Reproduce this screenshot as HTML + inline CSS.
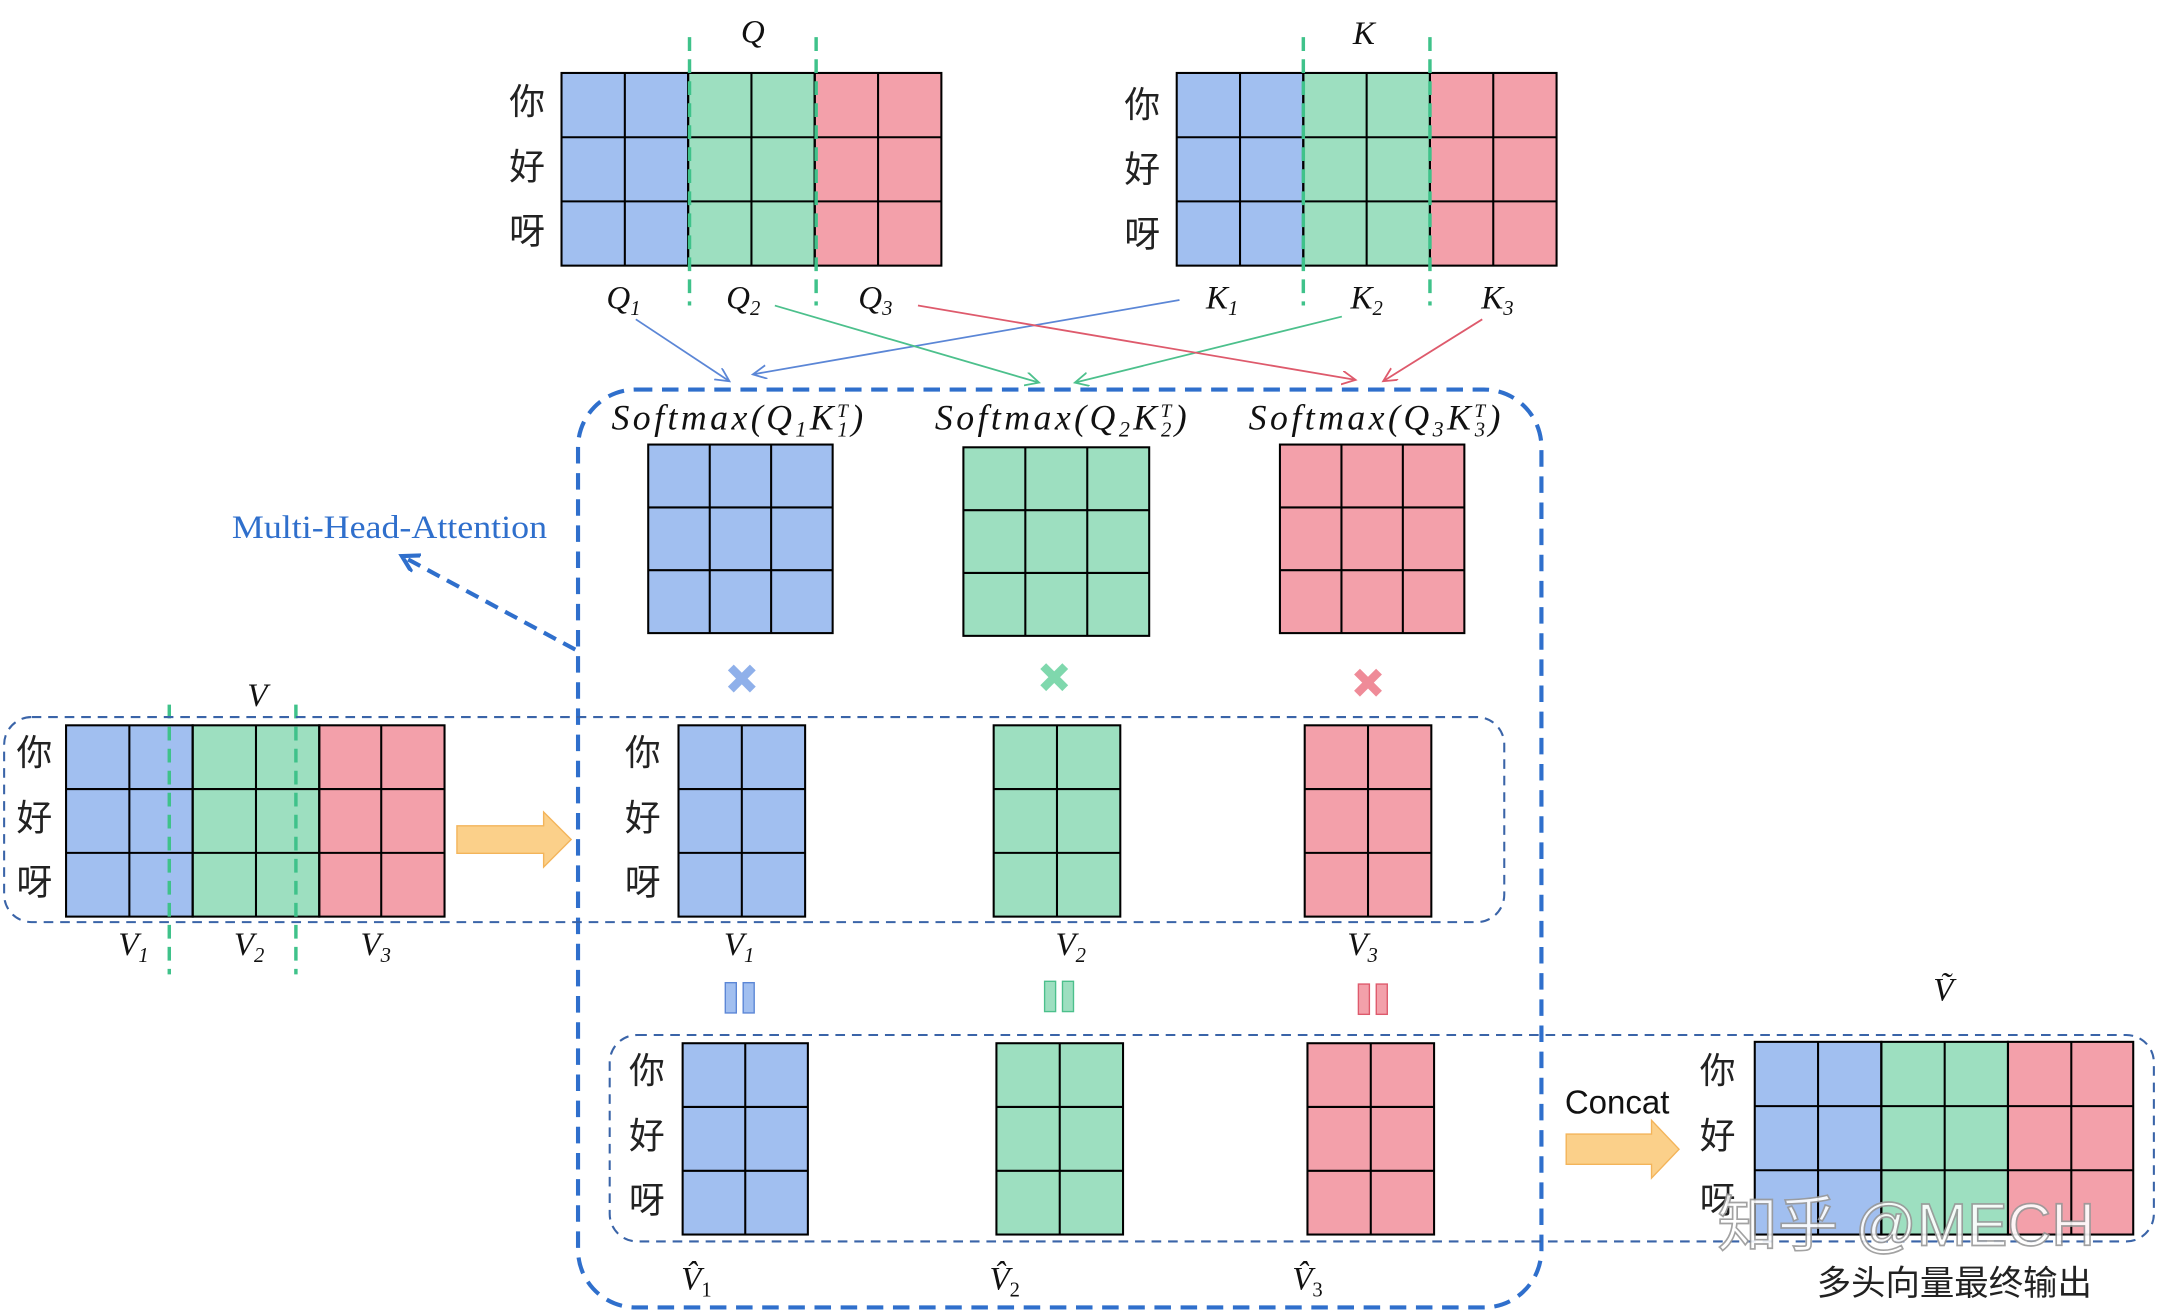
<!DOCTYPE html>
<html><head><meta charset="utf-8"><style>html,body{margin:0;padding:0;background:#fff}svg{display:block}</style></head>
<body>
<svg width="2158" height="1313" viewBox="0 0 1568 954" xmlns="http://www.w3.org/2000/svg" font-family="Liberation Serif, serif">
<defs>
<marker id="ab" markerWidth="12" markerHeight="12" refX="10" refY="5" orient="auto" markerUnits="userSpaceOnUse"><path d="M0,0 L10,5 L0,10" fill="none" stroke="#5b86d6" stroke-width="1.3"/></marker>
<marker id="ag" markerWidth="12" markerHeight="12" refX="10" refY="5" orient="auto" markerUnits="userSpaceOnUse"><path d="M0,0 L10,5 L0,10" fill="none" stroke="#4cc08c" stroke-width="1.3"/></marker>
<marker id="ar" markerWidth="12" markerHeight="12" refX="10" refY="5" orient="auto" markerUnits="userSpaceOnUse"><path d="M0,0 L10,5 L0,10" fill="none" stroke="#de5a6c" stroke-width="1.3"/></marker>
<marker id="abig" markerWidth="16" markerHeight="16" refX="12" refY="7" orient="auto" markerUnits="userSpaceOnUse"><path d="M0,0 L12,7 L0,14" fill="none" stroke="#2f6fcc" stroke-width="3"/></marker>
</defs>
<g stroke="#000" stroke-width="1.5">
<rect x="408" y="53" width="92" height="140" fill="#a1bff0"/><rect x="500" y="53" width="92" height="140" fill="#9ddfc0"/><rect x="592" y="53" width="92" height="140" fill="#f3a0aa"/>
<path d="M454 53V193M500 53V193M546 53V193M592 53V193M638 53V193M408 99.7H684M408 146.3H684" fill="none"/>
<rect x="855" y="53" width="92" height="140" fill="#a1bff0"/><rect x="947" y="53" width="92" height="140" fill="#9ddfc0"/><rect x="1039" y="53" width="92" height="140" fill="#f3a0aa"/>
<path d="M901 53V193M947 53V193M993 53V193M1039 53V193M1085 53V193M855 99.7H1131M855 146.3H1131" fill="none"/>
<rect x="471" y="323" width="134" height="137" fill="#a1bff0"/><path d="M515.7 323V460M560.3 323V460M471 368.7H605M471 414.3H605" fill="none"/>
<rect x="700" y="325" width="135" height="137" fill="#9ddfc0"/><path d="M745 325V462M790 325V462M700 370.7H835M700 416.3H835" fill="none"/>
<rect x="930" y="323" width="134" height="137" fill="#f3a0aa"/><path d="M974.7 323V460M1019.3 323V460M930 368.7H1064M930 414.3H1064" fill="none"/>
<rect x="48" y="527" width="92" height="139" fill="#a1bff0"/><rect x="140" y="527" width="92" height="139" fill="#9ddfc0"/><rect x="232" y="527" width="91" height="139" fill="#f3a0aa"/>
<path d="M94 527V666M140 527V666M186 527V666M232 527V666M277 527V666M48 573.3H323M48 619.7H323" fill="none"/>
<rect x="493" y="527" width="92" height="139" fill="#a1bff0"/><path d="M539 527V666M493 573.3H585M493 619.7H585" fill="none"/>
<rect x="722" y="527" width="92" height="139" fill="#9ddfc0"/><path d="M768 527V666M722 573.3H814M722 619.7H814" fill="none"/>
<rect x="948" y="527" width="92" height="139" fill="#f3a0aa"/><path d="M994 527V666M948 573.3H1040M948 619.7H1040" fill="none"/>
<rect x="496" y="758" width="91" height="139" fill="#a1bff0"/><path d="M541.5 758V897M496 804.3H587M496 850.7H587" fill="none"/>
<rect x="724" y="758" width="92" height="139" fill="#9ddfc0"/><path d="M770 758V897M724 804.3H816M724 850.7H816" fill="none"/>
<rect x="950" y="758" width="92" height="139" fill="#f3a0aa"/><path d="M996 758V897M950 804.3H1042M950 850.7H1042" fill="none"/>
<rect x="1275" y="757" width="92" height="140" fill="#a1bff0"/><rect x="1367" y="757" width="92" height="140" fill="#9ddfc0"/><rect x="1459" y="757" width="91" height="140" fill="#f3a0aa"/>
<path d="M1321 757V897M1367 757V897M1413 757V897M1459 757V897M1505 757V897M1275 803.7H1550M1275 850.3H1550" fill="none"/>
</g>
<g stroke="#3fc28a" stroke-width="2.5" stroke-dasharray="10,6">
<path d="M501 27V222M593 27V222M947 27V222M1039 27V222M123 512V708M215 512V708"/>
</g>
<g stroke-width="1.3" fill="none">
<path d="M462 232L530 277" stroke="#5b86d6" marker-end="url(#ab)"/>
<path d="M857 218L547 272" stroke="#5b86d6" marker-end="url(#ab)"/>
<path d="M563 222L755 278" stroke="#4cc08c" marker-end="url(#ag)"/>
<path d="M975 230L781 278" stroke="#4cc08c" marker-end="url(#ag)"/>
<path d="M667 222L985 276" stroke="#de5a6c" marker-end="url(#ar)"/>
<path d="M1077 232L1005 277" stroke="#de5a6c" marker-end="url(#ar)"/>
</g>
<rect x="420" y="283" width="700" height="667" rx="42" fill="none" stroke="#2f6fcc" stroke-width="3" stroke-dasharray="12,7"/>
<rect x="3" y="521" width="1090" height="149" rx="20" fill="none" stroke="#3a64a8" stroke-width="1.5" stroke-dasharray="7,5"/>
<rect x="443" y="752" width="1122" height="150" rx="20" fill="none" stroke="#3a64a8" stroke-width="1.5" stroke-dasharray="7,5"/>
<path d="M418 472L292 404" stroke="#2f6fcc" stroke-width="3" stroke-dasharray="10,6" fill="none" marker-end="url(#abig)"/>
<text x="283" y="391" font-size="24" fill="#2f6fcc" text-anchor="middle" textLength="229" lengthAdjust="spacingAndGlyphs">Multi-Head-Attention</text>
<path d="M332 600H395V590L415 610L395 630V620H332Z" fill="#fbd08a" stroke="#f3b45a" stroke-width="1"/>
<path d="M1138 824H1200V814L1220 835L1200 856V846H1138Z" fill="#fbd08a" stroke="#f3b45a" stroke-width="1"/>
<g stroke-width="6" stroke-linecap="butt">
<path d="M531 485L547 501M547 485L531 501" stroke="#8fb0ea"/>
<path d="M758 484L774 500M774 484L758 500" stroke="#7fd8ad"/>
<path d="M986 488L1002 504M1002 488L986 504" stroke="#ef8b98"/>
</g>
<g stroke-width="1">
<rect x="527" y="714" width="8" height="22" fill="#a1bff0" stroke="#5b86d6"/><rect x="540" y="714" width="8" height="22" fill="#a1bff0" stroke="#5b86d6"/>
<rect x="759" y="713" width="8" height="22" fill="#9ddfc0" stroke="#4cc08c"/><rect x="772" y="713" width="8" height="22" fill="#9ddfc0" stroke="#4cc08c"/>
<rect x="987" y="715" width="8" height="22" fill="#f3a0aa" stroke="#de5a6c"/><rect x="1000" y="715" width="8" height="22" fill="#f3a0aa" stroke="#de5a6c"/>
</g>
<g font-family="Liberation Sans, Noto Sans CJK SC, sans-serif" font-size="26" text-anchor="middle" fill="#222">
<text x="383" y="83">你</text><text x="383" y="130">好</text><text x="383" y="177">呀</text>
<text x="830" y="85">你</text><text x="830" y="132">好</text><text x="830" y="179">呀</text>
<text x="25" y="556">你</text><text x="25" y="603">好</text><text x="25" y="650">呀</text>
<text x="467" y="556">你</text><text x="467" y="603">好</text><text x="467" y="650">呀</text>
<text x="470" y="787">你</text><text x="470" y="834">好</text><text x="470" y="881">呀</text>
<text x="1248" y="787">你</text><text x="1248" y="834">好</text><text x="1248" y="881">呀</text>
<text x="1420" y="941" font-size="25">多头向量最终输出</text>
<text x="1385" y="905" font-size="44" fill="#fff" stroke="#999" stroke-width="1.2" opacity="0.9">知乎 @MECH</text>
</g>
<text x="1175" y="809" font-family="Liberation Sans, sans-serif" font-size="24" text-anchor="middle" fill="#111">Concat</text>
<g font-size="24" font-style="italic" text-anchor="middle" fill="#111">
<text x="547" y="31">Q</text><text x="991" y="32">K</text><text x="187" y="513">V</text>
<text x="453" y="224">Q<tspan font-size="15" dy="5">1</tspan></text>
<text x="540" y="224">Q<tspan font-size="15" dy="5">2</tspan></text>
<text x="636" y="224">Q<tspan font-size="15" dy="5">3</tspan></text>
<text x="888" y="224">K<tspan font-size="15" dy="5">1</tspan></text>
<text x="993" y="224">K<tspan font-size="15" dy="5">2</tspan></text>
<text x="1088" y="224">K<tspan font-size="15" dy="5">3</tspan></text>
<text x="97" y="694">V<tspan font-size="15" dy="5">1</tspan></text>
<text x="181" y="694">V<tspan font-size="15" dy="5">2</tspan></text>
<text x="273" y="694">V<tspan font-size="15" dy="5">3</tspan></text>
<text x="537" y="694">V<tspan font-size="15" dy="5">1</tspan></text>
<text x="778" y="694">V<tspan font-size="15" dy="5">2</tspan></text>
<text x="990" y="694">V<tspan font-size="15" dy="5">3</tspan></text>
<text x="506" y="937">V̂<tspan font-size="15" dy="5" font-style="normal">1</tspan></text>
<text x="730" y="937">V̂<tspan font-size="15" dy="5" font-style="normal">2</tspan></text>
<text x="950" y="937">V̂<tspan font-size="15" dy="5" font-style="normal">3</tspan></text>
<text x="1412" y="727">Ṽ</text>
</g>
<g font-size="26" font-style="italic" fill="#111" text-anchor="middle" letter-spacing="2.5">
<text x="537" y="312">Softmax(Q<tspan font-size="16" dy="5">1</tspan><tspan dy="-5">K</tspan><tspan font-size="14" dy="-9">T</tspan><tspan font-size="15" dx="-10" dy="14">1</tspan><tspan dy="-5">)</tspan></text>
<text x="772" y="312">Softmax(Q<tspan font-size="16" dy="5">2</tspan><tspan dy="-5">K</tspan><tspan font-size="14" dy="-9">T</tspan><tspan font-size="15" dx="-10" dy="14">2</tspan><tspan dy="-5">)</tspan></text>
<text x="1000" y="312">Softmax(Q<tspan font-size="16" dy="5">3</tspan><tspan dy="-5">K</tspan><tspan font-size="14" dy="-9">T</tspan><tspan font-size="15" dx="-10" dy="14">3</tspan><tspan dy="-5">)</tspan></text>
</g>
</svg>
</body></html>
